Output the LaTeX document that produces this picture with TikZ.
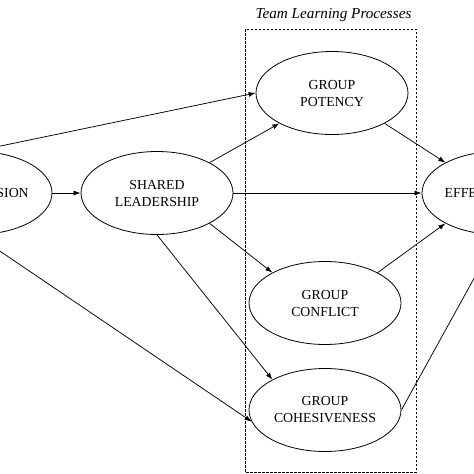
\documentclass[tikz,border=0pt]{standalone}
\usepackage{fontspec}
\setmainfont{Liberation Serif}
\usetikzlibrary{arrows.meta,shapes.geometric}
\begin{document}
\begin{tikzpicture}[x=1pt,y=-1pt,
  oval/.style={draw,line width=0.8pt,ellipse,minimum width=152pt,minimum height=83pt,inner sep=0pt,align=center,font=\fontsize{13.8}{17}\selectfont},
  link/.style={line width=0.75pt,-{Latex[length=7pt,width=5pt]}},
  boxline/.style={line width=0.7pt,dash pattern=on 2.5pt off 1.5pt}]
\useasboundingbox (0,0) rectangle (474,474);
\clip (0,0) rectangle (474,474);
\fill[white] (0,0) rectangle (474,474);
\draw[boxline] (245,29) rectangle (416,472);
\node[font=\fontsize{15.2}{17}\selectfont\itshape] (title) at (333.5,15) {Team Learning Processes};
\node[oval] (left) at (-24,193) {SHARED VISION};
\node[oval] (sl) at (157,193) {SHARED\\LEADERSHIP};
\node[oval] (pot) at (332,93) {GROUP\\POTENCY};
\node[oval] (con) at (325,303) {GROUP\\CONFLICT};
\node[oval] (coh) at (325,410) {GROUP\\COHESIVENESS};
\node[oval] (eff) at (498,193) {EFFECTIVENESS};
\draw[link] (left.east) -- (sl.west);
\draw[link] (left.north) -- (pot.west);
\draw[link] (left.south) -- (coh.189);
\draw[link] (sl.30) -- (pot.210);
\draw[link] (sl.east) -- (eff.west);
\draw[link] (sl.-30) -- (con.150);
\draw[link] (sl.south) -- (coh.150);
\draw[link] (pot.-30) -- (eff.150);
\draw[link] (con.30) -- (eff.210);
\draw[link] (coh.east) -- (eff.south);
\end{tikzpicture}
\end{document}
